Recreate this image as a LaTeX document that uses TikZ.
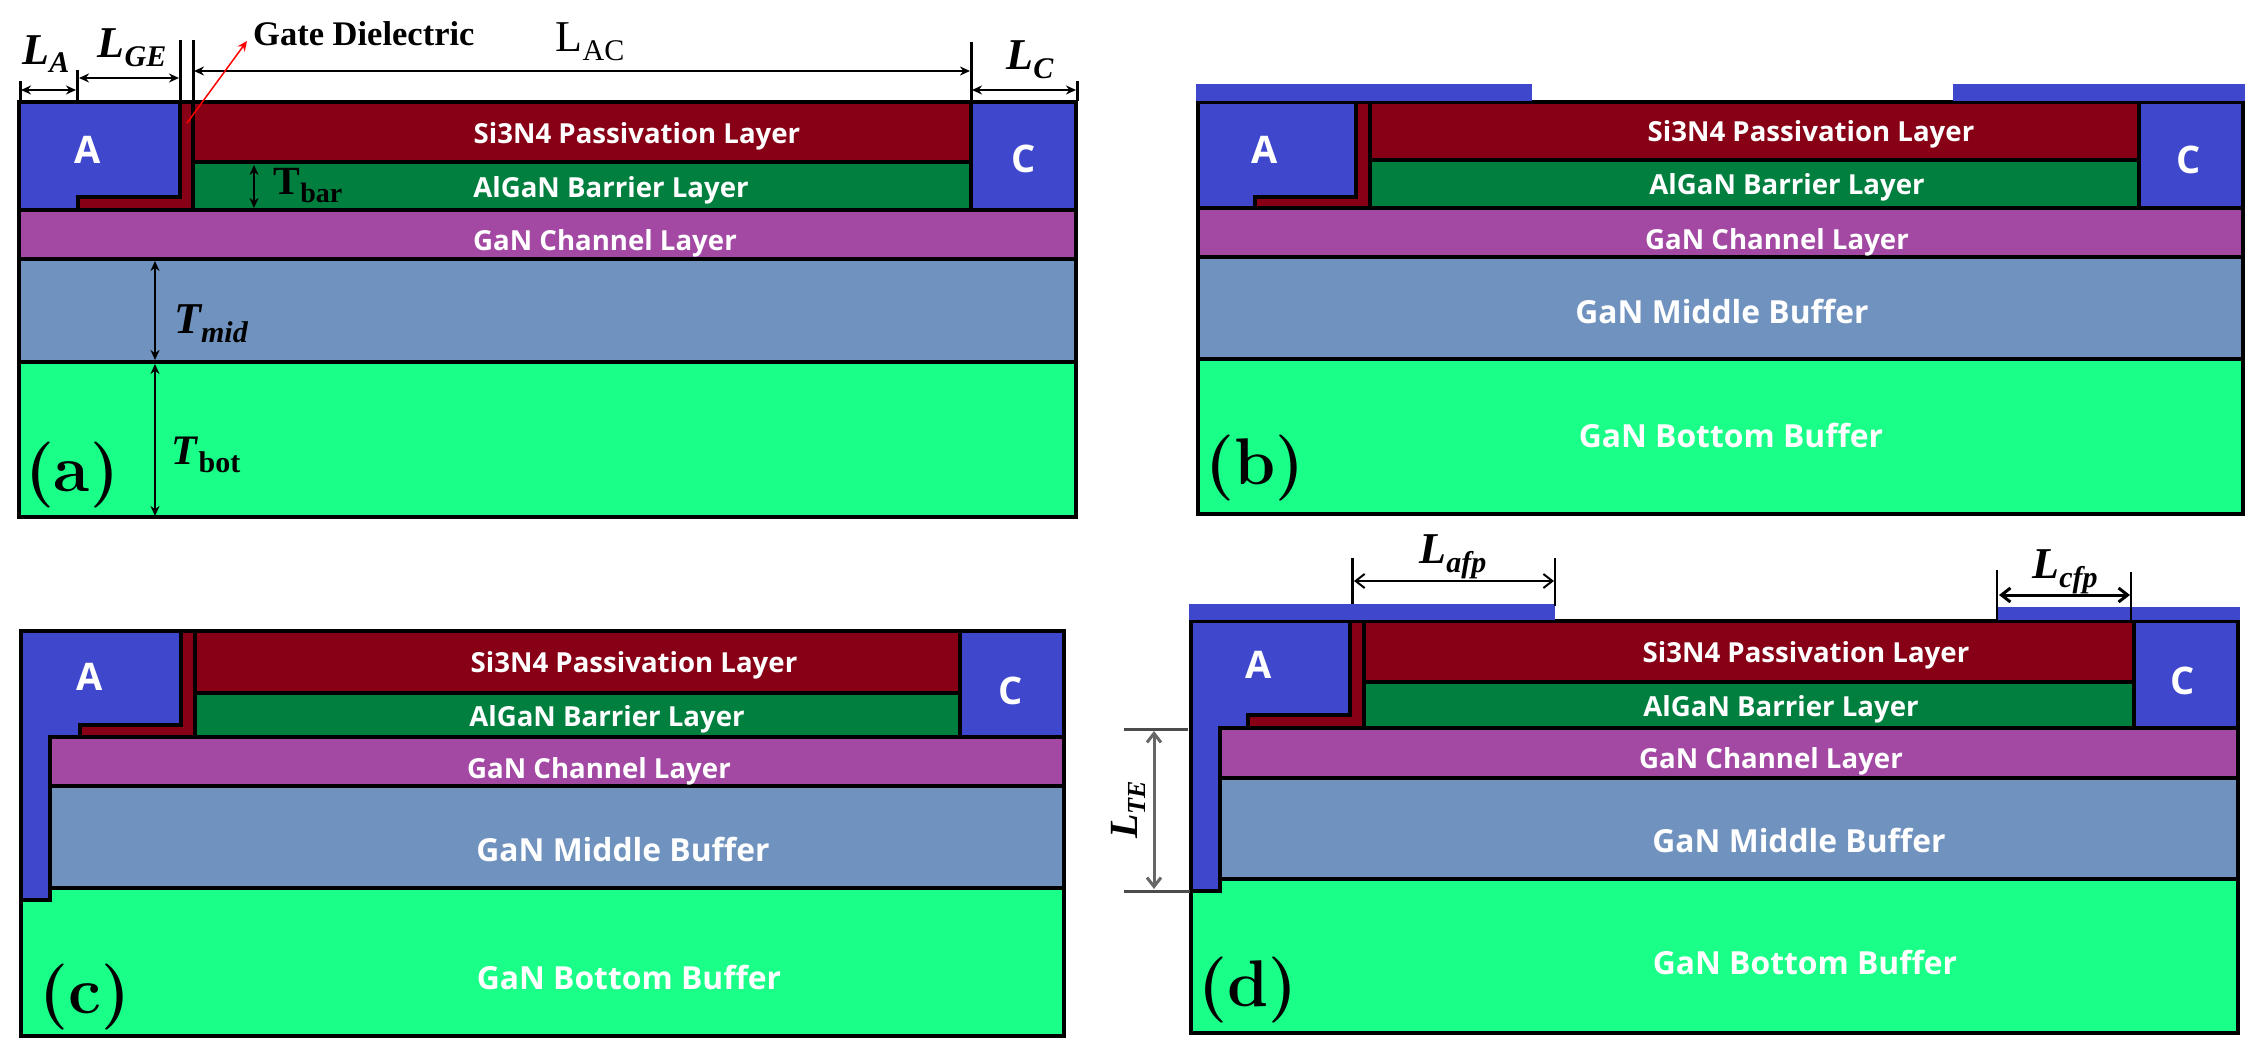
\documentclass[tikz,border=0pt]{standalone}
\usepackage{fontspec}
\usetikzlibrary{arrows.meta}
\setmainfont{Liberation Serif}
\newfontfamily\layerfont{Open Sans}
\definecolor{metal}{HTML}{3F48CC}
\definecolor{sinlayer}{HTML}{880015}
\definecolor{algan}{HTML}{007F3F}
\definecolor{chan}{HTML}{A349A4}
\definecolor{midb}{HTML}{7092BE}
\definecolor{botb}{HTML}{19FF87}
\tikzset{
  x=1pt,y=-1pt,
  lay/.style={draw=black,line width=3.5pt,line join=miter},
  fsin/.style={lay,fill=sinlayer},
  falg/.style={lay,fill=algan},
  fcha/.style={lay,fill=chan},
  fmid/.style={lay,fill=midb},
  fbot/.style={lay,fill=botb},
  fmet/.style={lay,fill=metal},
  ltxt/.style={text=white,font=\layerfont\bfseries\fontsize{27.6}{27.6}\selectfont,inner sep=0pt,yshift=-3.5pt},
  btxt/.style={text=white,font=\layerfont\bfseries\fontsize{31.8}{31.8}\selectfont,inner sep=0pt},
  etxt/.style={text=white,font=\layerfont\bfseries\fontsize{38}{38}\selectfont,inner sep=0pt},
  tag/.style={inner sep=0pt},
  dimt/.style={inner sep=0pt,font=\fontsize{44}{44}\selectfont\bfseries\itshape},
  tick/.style={draw=black,line width=3pt},
  dimline/.style={draw=black,line width=2.5pt,{Stealth[length=10pt,width=9pt]}-{Stealth[length=10pt,width=9pt]}},
  barbline/.style={draw=black,line width=2pt,{Straight Barb[length=9pt,width=14pt]}-{Straight Barb[length=9pt,width=14pt]}},
}
\newcommand{\sublab}[2][30]{\raisebox{-0.2em}{\fontsize{#1}{#1}\selectfont #2}}
\newcommand{\tagtext}[1]{{\usefont{TU}{lmr}{bx}{n}\fontsize{66}{66}\selectfont #1}}
\begin{document}
\begin{tikzpicture}
\useasboundingbox (0,0) rectangle (2267,1064);
% ---------- panel a
\draw[fbot] (19,362) rectangle (1076,517);
\draw[fmid] (19,259) rectangle (1076,362);
\draw[fcha] (19,210) rectangle (1076,259);
\draw[falg] (193,162) rectangle (971,210);
\draw[fsin] (193,102) rectangle (971,162);
\draw[fsin] (180,102) -- (193,102) -- (193,210) -- (78,210) -- (78,197) -- (180,197) -- cycle;
\draw[fmet] (19,102) -- (180,102) -- (180,197) -- (78,197) -- (78,210) -- (19,210) -- cycle;
\draw[fmet] (971,102) rectangle (1076,210);
\node[ltxt] (a1) at (637,133) {Si3N4 Passivation Layer};
\node[ltxt] (a2) at (611,187) {AlGaN Barrier Layer};
\node[ltxt] (a3) at (605,240) {GaN Channel Layer};
\node[etxt] (aA) at (88,150) {A};
\node[etxt] (aC) at (1024,159) {C};
\node[tag] (atag) at (72,475) {\tagtext{(a)}};
% dimension ticks
\coordinate (t1a) at (20,81); \coordinate (t1b) at (20,101);
\coordinate (t2a) at (77,70); \coordinate (t2b) at (77,101);
\coordinate (t3a) at (180,40); \coordinate (t3b) at (180,101);
\coordinate (t4a) at (193,40); \coordinate (t4b) at (193,125);
\coordinate (t5a) at (971,42); \coordinate (t5b) at (971,101);
\coordinate (t6a) at (1077,81); \coordinate (t6b) at (1077,101);
\foreach \p in {1,...,6} \draw[tick] (t\p a) -- (t\p b);
\coordinate (la1) at (21,90); \coordinate (la2) at (76,90);
\coordinate (lg1) at (79,78); \coordinate (lg2) at (179,78);
\coordinate (lc1) at (194,71); \coordinate (lc2) at (970,71);
\coordinate (lk1) at (972,90); \coordinate (lk2) at (1076,90);
\draw[dimline] (la1) -- (la2);
\draw[dimline] (lg1) -- (lg2);
\draw[dimline,line width=2pt] (lc1) -- (lc2);
\draw[dimline] (lk1) -- (lk2);
\node[dimt] (tLA) at (46,54) {L\sublab{A}};
\node[dimt] (tLG) at (132,48) {L\sublab{GE}};
\node[inner sep=0pt,font=\fontsize{44}{44}\selectfont] (tLC) at (590,42) {L\sublab{AC}};
\node[dimt] (tLK) at (1030,60) {L\sublab{C}};
\node[inner sep=0pt,font=\bfseries\fontsize{34.5}{34.5}\selectfont,anchor=west] (gd) at (253,34) {Gate Dielectric};
\coordinate (gd0) at (187,123);
\coordinate (gd1) at (247,41);
\draw[red,line width=1.5pt,-{Stealth[length=10pt,width=9pt]}] (gd0) -- (gd1);
\coordinate (tb1) at (254,165); \coordinate (tb2) at (254,208);
\draw[dimline,line width=2pt] (tb1) -- (tb2);
\node[inner sep=0pt,font=\bfseries\fontsize{40}{40}\selectfont] (tTb) at (308,186) {T\sublab[28]{bar}};
\coordinate (tm1) at (155,261); \coordinate (tm2) at (155,360);
\draw[dimline,line width=2pt] (tm1) -- (tm2);
\node[dimt] (tTm) at (211,324) {T\sublab{mid}};
\coordinate (tt1) at (155,364); \coordinate (tt2) at (155,516);
\draw[dimline,line width=2pt] (tt1) -- (tt2);
\node[inner sep=0pt,font=\bfseries\fontsize{42}{42}\selectfont] (tTt) at (206,455) {\textit{T}\sublab{bot}};
% ---------- panel b
\draw[fbot] (1198,359) rectangle (2243,514);
\draw[fmid] (1198,257) rectangle (2243,359);
\draw[fcha] (1198,208) rectangle (2243,257);
\draw[falg] (1370,160) rectangle (2139,208);
\draw[fsin] (1370,102) rectangle (2139,160);
\draw[fsin] (1356,102) -- (1370,102) -- (1370,208) -- (1255,208) -- (1255,197) -- (1356,197) -- cycle;
\draw[fmet] (1198,102) -- (1356,102) -- (1356,197) -- (1255,197) -- (1255,208) -- (1198,208) -- cycle;
\draw[fmet] (2139,102) rectangle (2243,208);
\fill[metal] (1196,84) rectangle (1532,101);
\fill[metal] (1953,84) rectangle (2245,101);
\node[ltxt] (b1) at (1811,131) {Si3N4 Passivation Layer};
\node[ltxt] (b2) at (1787,184) {AlGaN Barrier Layer};
\node[ltxt] (b3) at (1777,239) {GaN Channel Layer};
\node[btxt] (b4) at (1722,311) {GaN Middle Buffer};
\node[btxt] (b5) at (1731,435) {GaN Bottom Buffer};
\node[etxt] (bA) at (1265,150) {A};
\node[etxt] (bC) at (2189,160) {C};
\node[tag] (btag) at (1255,468) {\tagtext{(b)}};
% ---------- panel c
\draw[fbot] (21,888) rectangle (1064,1036);
\draw[fmid] (50,786) rectangle (1064,888);
\draw[fcha] (50,737) rectangle (1064,786);
\draw[falg] (195,693) rectangle (960,737);
\draw[fsin] (195,631) rectangle (960,693);
\draw[fsin] (181,631) -- (195,631) -- (195,737) -- (80,737) -- (80,725) -- (181,725) -- cycle;
\draw[fmet] (21,631) -- (181,631) -- (181,725) -- (80,725) -- (80,737) -- (50,737) -- (50,900) -- (21,900) -- cycle;
\draw[fmet] (960,631) rectangle (1064,737);
\node[ltxt] (c1) at (634,662) {Si3N4 Passivation Layer};
\node[ltxt] (c2) at (607,716) {AlGaN Barrier Layer};
\node[ltxt] (c3) at (599,768) {GaN Channel Layer};
\node[btxt] (c4) at (623,849) {GaN Middle Buffer};
\node[btxt] (c5) at (629,977) {GaN Bottom Buffer};
\node[etxt] (cA) at (90,677) {A};
\node[etxt] (cC) at (1011,691) {C};
\node[tag] (ctag) at (85,997) {\tagtext{(c)}};
% ---------- panel d
\draw[fbot] (1191,879) rectangle (2238,1033);
\draw[fmid] (1220,778) rectangle (2238,879);
\draw[fcha] (1220,728) rectangle (2238,778);
\draw[falg] (1364,682) rectangle (2134,728);
\draw[fsin] (1364,621) rectangle (2134,682);
\draw[fsin] (1350,621) -- (1364,621) -- (1364,728) -- (1248,728) -- (1248,715) -- (1350,715) -- cycle;
\draw[fmet] (1191,621) -- (1350,621) -- (1350,715) -- (1248,715) -- (1248,728) -- (1220,728) -- (1220,891) -- (1191,891) -- cycle;
\draw[fmet] (2134,621) rectangle (2238,728);
\fill[metal] (1189,604) rectangle (1555,620);
\fill[metal] (1997,607) rectangle (2240,620);
\node[ltxt] (d1) at (1806,652) {Si3N4 Passivation Layer};
\node[ltxt] (d2) at (1781,706) {AlGaN Barrier Layer};
\node[ltxt] (d3) at (1771,758) {GaN Channel Layer};
\node[btxt] (d4) at (1799,840) {GaN Middle Buffer};
\node[btxt] (d5) at (1805,962) {GaN Bottom Buffer};
\node[etxt] (dA) at (1259,665) {A};
\node[etxt] (dC) at (2183,681) {C};
\node[tag] (dtag) at (1248,990) {\tagtext{(d)}};
\coordinate (af1) at (1352,558); \coordinate (af2) at (1352,604);
\coordinate (af3) at (1555,558); \coordinate (af4) at (1555,606);
\coordinate (cf1) at (1997,570); \coordinate (cf2) at (1997,620);
\coordinate (cf3) at (2131,572); \coordinate (cf4) at (2131,620);
\draw[tick] (af1) -- (af2); \draw[tick,line width=2pt] (af3) -- (af4);
\draw[tick,line width=2pt] (cf1) -- (cf2); \draw[tick,line width=2pt] (cf3) -- (cf4);
\coordinate (afa) at (1354,581); \coordinate (afb) at (1554,581);
\coordinate (cfa) at (1999,595); \coordinate (cfb) at (2130,595);
\draw[barbline] (afa) -- (afb);
\draw[barbline,line width=3pt] (cfa) -- (cfb);
\node[dimt] (tLaf) at (1453,557) {L\sublab{afp}};
\node[dimt] (tLcf) at (2065,572) {L\sublab{cfp}};
\coordinate (te1) at (1124,729); \coordinate (te2) at (1188,729);
\coordinate (te3) at (1124,891); \coordinate (te4) at (1190,891);
\draw[tick,draw=black!70] (te1) -- (te2);
\draw[tick,draw=black!70] (te3) -- (te4);
\coordinate (tea) at (1154,731); \coordinate (teb) at (1154,889);
\draw[barbline,draw=black!60,line width=3pt] (tea) -- (teb);
\node[dimt,rotate=90,font=\fontsize{40}{40}\selectfont\bfseries\itshape] (tLT) at (1128,810) {L\sublab[26]{TE}};
\end{tikzpicture}
\end{document}
